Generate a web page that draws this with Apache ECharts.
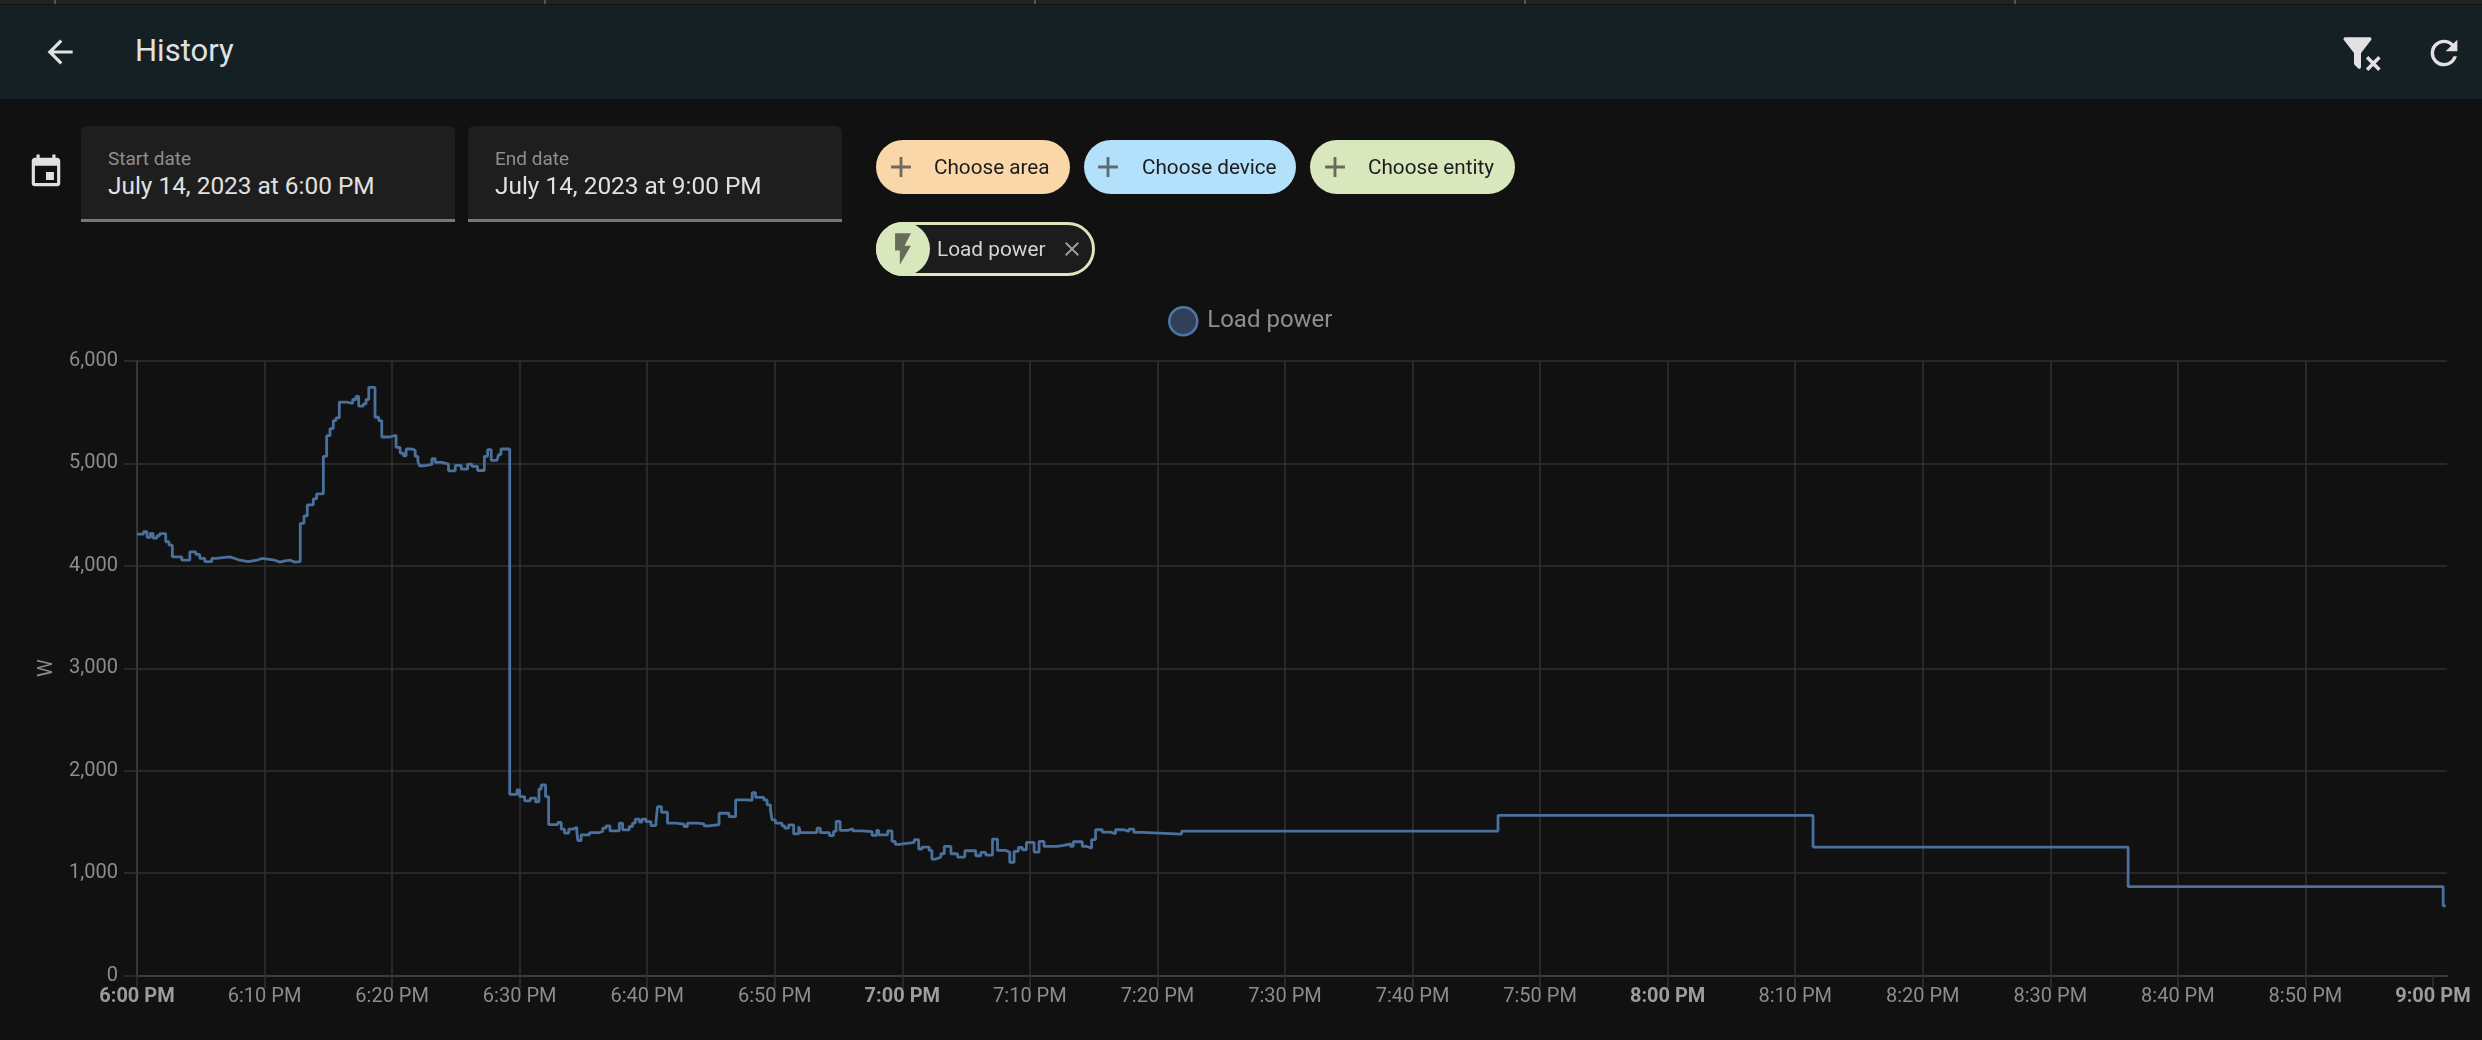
<!DOCTYPE html>
<html>
<head>
<meta charset="utf-8">
<title>History</title>
<script src="https://cdn.jsdelivr.net/npm/echarts@6/dist/echarts.min.js"></script>
<style>
html, body { margin: 0; padding: 0; width: 2482px; height: 1040px; background: #111111; overflow: hidden; font-family: Roboto, sans-serif; }
#main { position: absolute; left: 0; top: 0; width: 2482px; height: 1040px; }
.abs { position: absolute; }
.strip { left: 0; top: 0; width: 2482px; height: 4px; background: #222222; }
.sep { top: 0; width: 2px; height: 4px; background: #555555; }
.header { left: 0; top: 5px; width: 2482px; height: 94px; background: #152025; }
.title { left: 135px; top: 31px; font-size: 31px; line-height: 40px; color: #e1e1e1; }
.field { top: 126px; width: 374px; height: 93px; background: #1e1e1e; border-radius: 6px 6px 0 0; border-bottom: 3px solid #777777; }
.flabel { left: 27px; top: 22px; font-size: 19px; line-height: 22px; color: #8f8f8f; }
.fvalue { left: 27px; top: 44px; font-size: 24.4px; line-height: 32px; color: #e1e1e1; }
.chip { top: 140px; height: 54px; border-radius: 27px; }
.chip span { position: absolute; top: 0; line-height: 54px; font-size: 20.7px; color: #1c1c1c; }
.chip svg { position: absolute; top: 10px; width: 34px; height: 34px; }
svg { display: block; }
</style>
</head>
<body>
<div id="main"></div>

<div class="abs strip"></div>
<div class="abs sep" style="left:54px"></div>
<div class="abs sep" style="left:544px"></div>
<div class="abs sep" style="left:1034px"></div>
<div class="abs sep" style="left:1524px"></div>
<div class="abs sep" style="left:2014px"></div>
<div class="abs header"></div>
<svg class="abs" style="left:41px;top:33px" width="38" height="38" viewBox="0 0 24 24"><path fill="#e1e1e1" d="M20,11V13H8L13.5,18.5L12.08,19.92L4.16,12L12.08,4.08L13.5,5.5L8,11H20Z"/></svg>
<div class="abs title">History</div>
<svg class="abs" style="left:2340px;top:32px" width="42" height="42" viewBox="0 0 24 24"><path fill="#e1e1e1" d="M14.76,20.83L17.6,18L14.76,15.17L16.17,13.76L19,16.57L21.83,13.76L23.24,15.17L20.43,18L23.24,20.83L21.83,22.24L19,19.4L16.17,22.24L14.76,20.83M12,12V19.88C12.04,20.18 11.94,20.5 11.71,20.71C11.32,21.1 10.69,21.1 10.3,20.71L8.29,18.7C8.06,18.47 7.96,18.16 8,17.87V12H7.97L2.21,4.62C1.87,4.19 1.95,3.56 2.38,3.22C2.57,3.08 2.78,3 3,3V3H17V3C17.22,3 17.43,3.08 17.62,3.22C18.05,3.56 18.13,4.19 17.79,4.62L12.03,12H12Z"/></svg>
<svg class="abs" style="left:2424px;top:33px" width="40" height="40" viewBox="0 0 24 24"><path fill="#e1e1e1" d="M17.65,6.35C16.2,4.9 14.21,4 12,4A8,8 0 0,0 4,12A8,8 0 0,0 12,20C15.73,20 18.84,17.45 19.73,14H17.65C16.83,16.33 14.61,18 12,18A6,6 0 0,1 6,12A6,6 0 0,1 12,6C13.66,6 15.14,6.69 16.22,7.78L13,11H20V4L17.65,6.35Z"/></svg>

<svg class="abs" style="left:27px;top:153px" width="38" height="38" viewBox="0 0 24 24"><path fill="#e1e1e1" d="M19,19H5V8H19M16,1V3H8V1H6V3H5C3.89,3 3,3.89 3,5V19A2,2 0 0,0 5,21H19A2,2 0 0,0 21,19V5C21,3.89 20.1,3 19,3H18V1M17,12H12V17H17V12Z"/></svg>
<div class="abs field" style="left:81px"><div class="abs flabel">Start date</div><div class="abs fvalue">July 14, 2023 at 6:00 PM</div></div>
<div class="abs field" style="left:468px"><div class="abs flabel">End date</div><div class="abs fvalue">July 14, 2023 at 9:00 PM</div></div>

<div class="abs chip" style="left:876px;width:194px;background:#fad7a9">
  <svg style="left:8px" viewBox="0 0 24 24"><path fill="#6f6a5e" d="M19,13H13V19H11V13H5V11H11V5H13V11H19V13Z"/></svg><span style="left:58px">Choose area</span></div>
<div class="abs chip" style="left:1084px;width:212px;background:#b3e0fb">
  <svg style="left:7px" viewBox="0 0 24 24"><path fill="#5f6c74" d="M19,13H13V19H11V13H5V11H11V5H13V11H19V13Z"/></svg><span style="left:58px">Choose device</span></div>
<div class="abs chip" style="left:1310px;width:205px;background:#d9e7bd">
  <svg style="left:8px" viewBox="0 0 24 24"><path fill="#666c59" d="M19,13H13V19H11V13H5V11H11V5H13V11H19V13Z"/></svg><span style="left:58px">Choose entity</span></div>

<div class="abs" style="left:876px;top:222px;width:213px;height:48px;border:3px solid #d9e7bd;border-radius:27px;background:#1c1c1c"></div>
<div class="abs" style="left:876px;top:222px;width:54px;height:54px;border-radius:27px;background:#d9e7bd"></div>
<svg class="abs" style="left:884px;top:230px" width="38" height="38" viewBox="0 0 24 24"><path fill="#666c59" d="M7,2V13H10V22L17,10H13L17,2H7Z"/></svg>
<div class="abs" style="left:937px;top:222px;line-height:54px;font-size:20.8px;color:#d4d4d4">Load power</div>
<svg class="abs" style="left:1060px;top:237px" width="24" height="24" viewBox="0 0 24 24"><path fill="#9a9a9a" d="M19,6.41L17.59,5L12,10.59L6.41,5L5,6.41L10.59,12L5,17.59L6.41,19L12,13.41L17.59,19L19,17.59L13.41,12L19,6.41Z"/></svg>

<script>
var seriesName = 'Load power';
var axisEndMinute = 181.1;
var xTickMinutes = [0, 10, 20, 30, 40, 50, 60, 70, 80, 90, 100, 110, 120, 130, 140, 150, 160, 170, 180];
var xTickLabels = [
    '6:00 PM', '6:10 PM', '6:20 PM', '6:30 PM', '6:40 PM', '6:50 PM',
    '7:00 PM', '7:10 PM', '7:20 PM', '7:30 PM', '7:40 PM', '7:50 PM',
    '8:00 PM', '8:10 PM', '8:20 PM', '8:30 PM', '8:40 PM', '8:50 PM',
    '9:00 PM'
];
var yTicks = [0, 1000, 2000, 3000, 4000, 5000, 6000];

// minutes after 6:00 PM, and the value that holds from there
var minutes = [
    0, .52, .79, 1.05, 1.26, 1.57, 1.78, 2.25, 2.51, 2.77, 3.51, 4.14, 4.61, 4.92, 5.31, 5.86, 6.18, 7.28, 7.67, 8.06,
    8.72, 9.5, 9.76, 10.81, 11.2, 11.6, 12.0, 12.38, 12.8, 13.09, 13.35, 13.82, 14.08, 14.61, 14.87, 15.13, 15.39, 15.6, 15.86, 16.44,
    16.91, 17.17, 17.38, 17.75, 17.96, 18.17, 18.66, 18.95, 19.19, 19.79, 20.31, 20.63, 20.89, 21.1, 21.54, 21.81, 22.02, 22.15, 22.46, 23.12,
    23.38, 23.9, 24.42, 24.95, 25.42, 25.92, 26.26, 26.7, 27.23, 27.49, 27.77, 28.22, 28.35, 28.53,
    29.22, 29.79, 30, 30.39, 30.83, 31.25, 31.51, 31.69, 32.03, 32.27, 32.99, 33.26, 33.52, 33.85, 34.17, 34.48, 34.56, 34.82, 35.47, 36.25,
    36.51, 36.77, 37.08, 37.81, 38.07, 38.59, 38.85, 39.06, 39.38, 39.58, 39.9, 40.29, 40.68, 40.81, 41.12, 41.59, 42.24, 42.89, 43.15, 43.93,
    44.45, 44.84, 45.63, 46.41, 46.93, 47.71, 48.23, 48.49, 49.14, 49.4, 49.66, 49.79, 50.05, 50.57, 50.78, 51.09, 51.48, 51.88, 52.01, 53.31, 53.57,
    54.29, 54.6, 54.81, 55.12, 55.72, 56.11, 56.77, 57.63, 57.99, 58.15, 58.85, 59.19, 59.45, 59.77, 60.94, 61.28, 61.54, 62.11, 62.32, 62.63,
    63.02, 63.29, 63.81, 64.33, 64.9, 65.76, 66.15, 66.54, 67.07, 67.46, 68.11, 68.42, 68.76, 69.1, 69.41, 69.73, 70.33, 70.72, 71.11, 72.15,
    72.67, 73.19, 73.4, 74.11, 74.45, 74.84, 75.15, 75.67, 76.32, 76.71, 77.37, 77.76, 78.15, 78.8,
    81.9, 106.7, 131.4, 156.1, 180.8, 181
];
var watts = [
    4310, 4333, 4278, 4317, 4271, 4294, 4314, 4235, 4203, 4088, 4055, 4137, 4111, 4072, 4042, 4072, 4088, 4072, 4055, 4042,
    4059, 4072, 4055, 4036, 4049, 4055, 4036, 4042, 4415, 4487, 4595, 4654, 4703, 5069, 5271, 5340, 5418, 5444, 5598, 5585,
    5624, 5654, 5559, 5582, 5624, 5742, 5451, 5418, 5258, 5275, 5157, 5101, 5075, 5141, 5127, 5069, 5020, 4977, 4990, 5046,
    5010, 4993, 4928, 4980, 4944, 4993, 4971, 4931, 5069, 5134, 5029, 5010, 5085, 5141,
    1769, 1812, 1747, 1705, 1731, 1695, 1821, 1860, 1747, 1474, 1494, 1429, 1390, 1429, 1448, 1406, 1318, 1373, 1396, 1406,
    1438, 1461, 1412, 1487, 1422, 1455, 1487, 1526, 1497, 1526, 1503, 1464, 1487, 1649, 1594, 1487, 1477, 1455, 1487, 1481,
    1461, 1474, 1584, 1552, 1714, 1711, 1786, 1740, 1714, 1666, 1617, 1519, 1487, 1461, 1438, 1471, 1383, 1455, 1396, 1438, 1396,
    1365, 1407, 1505, 1417, 1433, 1413, 1404, 1368, 1417, 1374, 1413, 1309, 1280, 1299, 1326, 1234, 1254, 1221, 1137, 1156,
    1189, 1260, 1189, 1156, 1218, 1169, 1202, 1176, 1332, 1221, 1205, 1104, 1212, 1251, 1228, 1299, 1205, 1309, 1260, 1270,
    1286, 1260, 1306, 1260, 1244, 1326, 1423, 1400, 1384, 1423, 1407, 1430, 1397, 1381,
    1410, 1563, 1254, 867, 679, 679
];

var lineData = minutes.map(function (m, i) {
    return [m, watts[i]];
});

function timeLabel(value) {
    var i = xTickMinutes.indexOf(value);
    if (i < 0) {
        return '';
    }
    return value % 60 === 0 ? '{bold|' + xTickLabels[i] + '}' : xTickLabels[i];
}

var myChart = echarts.init(document.getElementById('main'), null, { renderer: 'canvas' });

var option = {
    backgroundColor: 'transparent',
    animation: false,
    textStyle: { fontFamily: 'Roboto' },
    legend: {
        left: 1168,
        top: 306,
        padding: 0,
        itemWidth: 28,
        itemHeight: 28,
        itemGap: 10,
        icon: 'circle',
        data: [seriesName],
        itemStyle: { color: '#2f4058', borderColor: '#4f78a8', borderWidth: 2.5 },
        lineStyle: { opacity: 0 },
        textStyle: { color: '#8f8f8f', fontSize: 24, fontFamily: 'Roboto', padding: [0, 0, 0, 5] }
    },
    grid: { left: 137, right: 35, top: 361, bottom: 64.5 },
    xAxis: {
        type: 'value',
        min: 0,
        max: axisEndMinute,
        interval: 10,
        axisLine: { show: true, lineStyle: { color: '#3d3d3d', width: 2 } },
        axisTick: { show: true, length: 13, customValues: xTickMinutes, lineStyle: { color: '#303030', width: 1.6 } },
        splitLine: { show: true, showMaxLine: false, lineStyle: { color: '#303030', width: 1.6 } },
        axisLabel: {
            show: true,
            margin: 11,
            color: '#8c8c8c',
            fontSize: 20,
            fontFamily: 'Roboto',
            hideOverlap: false,
            customValues: xTickMinutes,
            formatter: timeLabel,
            rich: { bold: { fontWeight: 'bold', color: '#9c9c9c', fontSize: 20, fontFamily: 'Roboto' } }
        }
    },
    yAxis: {
        type: 'value',
        min: yTicks[0],
        max: yTicks[yTicks.length - 1],
        interval: 1000,
        name: 'W',
        nameLocation: 'middle',
        nameRotate: 90,
        nameGap: 80,
        nameTextStyle: { color: '#8c8c8c', fontSize: 20, fontFamily: 'Roboto' },
        axisLine: { show: true, lineStyle: { color: '#3d3d3d', width: 1.6 } },
        axisTick: { show: true, length: 13, lineStyle: { color: '#303030', width: 1.6 } },
        splitLine: { show: true, lineStyle: { color: '#303030', width: 1.6 } },
        axisLabel: {
            margin: 19,
            padding: [6, 0, 0, 0],
            color: '#8c8c8c',
            fontSize: 20,
            fontFamily: 'Roboto',
            formatter: function (v) {
                return v.toLocaleString('en-US');
            }
        }
    },
    series: [
        {
            name: seriesName,
            type: 'line',
            step: 'end',
            showSymbol: false,
            symbol: 'none',
            data: lineData,
            lineStyle: { color: '#4a709c', width: 2.8 },
            itemStyle: { color: '#2f4058', borderColor: '#4f78a8' }
        }
    ]
};

myChart.setOption(option);
</script>
</body>
</html>
